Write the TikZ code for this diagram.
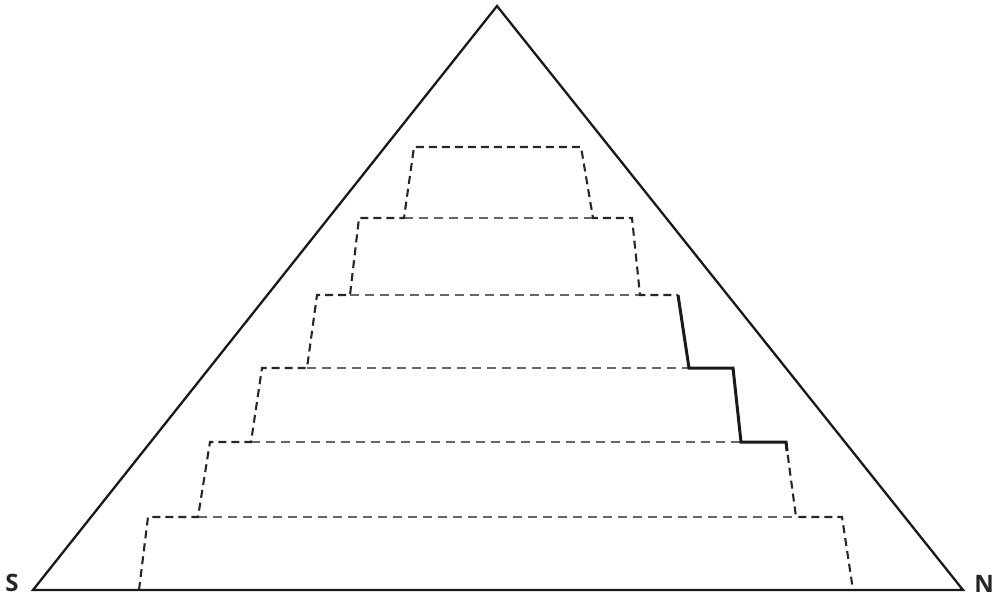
\documentclass[tikz,border=0pt]{standalone}
\usepackage{fontspec}
\setsansfont{Open Sans}
\begin{document}
\begin{tikzpicture}[x=1pt,y=-1pt,
  tri/.style={line width=2.3pt,line join=miter,black!90},
  outline/.style={line width=2.1pt,dash pattern=on 8pt off 5pt,black!85},
  divide/.style={line width=2.1pt,dash pattern=on 9pt off 6pt,black!60},
  path/.style={line width=3pt,line join=miter,black!90},
  lbl/.style={font=\sffamily\bfseries\fontsize{24}{24}\selectfont,inner sep=0pt,text=black!85}]
\useasboundingbox (0,0) rectangle (995,607);
\coordinate (A) at (497,6);
\coordinate (S) at (33,590);
\coordinate (N) at (963,590);
\draw[tri] (S) -- (A) -- (N) -- cycle;
\node[lbl] (sl) at (12,583) {S};
\node[lbl] (nl) at (984,584) {N};
% interior dividing lines (gray)
\draw[divide] (198,517) -- (796,517);
\draw[divide] (251,442) -- (741,442);
\draw[divide] (307,368) -- (689,368);
\draw[divide] (350,295) -- (640,295);
\draw[divide] (404,218) -- (593,218);
% left outline
\draw[outline] (139,590) -- (148,517) -- (198,517) -- (210,442) -- (251,442) -- (262,368) -- (307,368) -- (317,295) -- (350,295) -- (359,218) -- (404,218) -- (414,147) -- (581,147) -- (593,218) -- (632,218) -- (640,295) -- (678,295);
% right outline lower part
\draw[outline] (786,442) -- (796,517) -- (842,517) -- (853,590);
% solid stair
\draw[path] (678,295) -- (689,368) -- (733,368) -- (741,442) -- (786,442) -- (787,451);
\end{tikzpicture}
\end{document}
